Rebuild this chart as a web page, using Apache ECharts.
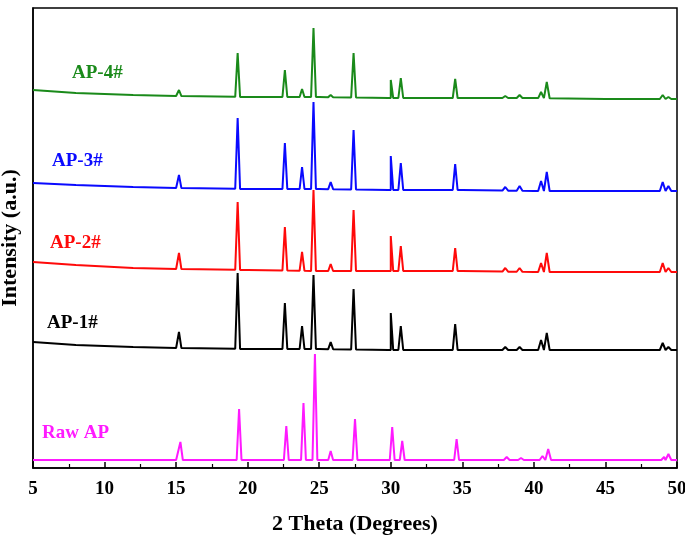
<!DOCTYPE html>
<html>
<head>
<meta charset="utf-8">
<script src="https://cdn.jsdelivr.net/npm/echarts@6/dist/echarts.min.js"></script>
<style>html,body{margin:0;padding:0;background:#fff}#chart{width:685px;height:537px}</style>
</head>
<body>
<div id="chart"></div>
<script>
// peak positions (2 theta) and peak tops / baselines (arbitrary units, offset stacked)
var peakX = [15.2, 19.3, 22.6, 23.8, 24.6, 25.8, 27.4, 30.0, 30.7, 34.5, 38.0, 39.0, 40.5, 40.9, 49.0, 49.4]
var rawX = [15.3, 19.4, 22.7, 23.9, 24.7, 25.8, 27.5, 30.1, 30.8, 34.6, 38.1, 39.1, 40.6, 41.0, 49.1, 49.4]
var baseX = [5, 8, 12, 15, 20, 25, 30, 35, 40, 45, 50]

var ap4Base = [378, 375, 373, 372, 371, 371, 370, 370, 370, 369, 369]
var ap4Peaks = [378, 415, 398, 379, 440, 373, 415, 388, 390, 389, 372, 373, 376, 386, 373, 371]
var ap3Base = [285, 283, 281, 280, 279, 279, 278, 278, 277, 277, 277]
var ap3Peaks = [293, 350, 325, 301, 366, 286, 338, 312, 305, 304, 281, 282, 287, 296, 286, 282]
var ap2Base = [206, 203, 200, 199, 198, 197, 197, 197, 196, 196, 196]
var ap2Peaks = [215, 266, 241, 216, 278, 204, 258, 232, 222, 220, 200, 200, 205, 215, 205, 200]
var ap1Base = [126, 123, 121, 120, 119, 119, 118, 118, 118, 118, 118]
var ap1Peaks = [136, 195, 165, 142, 193, 126, 179, 155, 142, 144, 121, 121, 128, 135, 125, 121]
var rawBase = [8, 8, 8, 8, 8, 8, 8, 8, 8, 8, 8]
var rawPeaks = [26, 59, 42, 65, 114, 17, 49, 41, 27, 29, 11, 10, 12, 19, 11, 14]

var names = ['AP-4#', 'AP-3#', 'AP-2#', 'AP-1#', 'Raw AP']
var colors = ['#1a8a1a', '#0a0aff', '#ff0a0a', '#000000', '#ff1aff']

function baseAt (base, x) {
  for (var i = 0; i < baseX.length - 1; i++) {
    if (x <= baseX[i + 1]) {
      var t = (x - baseX[i]) / (baseX[i + 1] - baseX[i])
      return base[i] + t * (base[i + 1] - base[i])
    }
  }
  return base[base.length - 1]
}

function build (xs, peaks, base) {
  var pts = []
  for (var i = 0; i < baseX.length; i++) pts.push([baseX[i], base[i]])
  for (var j = 0; j < xs.length; j++) {
    var w = xs[j] > 37 ? 0.2 : 0.17
    pts.push([xs[j] - w, baseAt(base, xs[j] - w)])
    pts.push([xs[j], peaks[j]])
    pts.push([xs[j] + w, baseAt(base, xs[j] + w)])
  }
  pts.sort(function (a, b) { return a[0] - b[0] })
  return pts
}

var datas = [
  build(peakX, ap4Peaks, ap4Base),
  build(peakX, ap3Peaks, ap3Base),
  build(peakX, ap2Peaks, ap2Base),
  build(peakX, ap1Peaks, ap1Base),
  build(rawX, rawPeaks, rawBase)
]

var labelPos = [[72, 75], [52, 163], [50, 245], [47, 325], [42, 435]]
var font = 'Liberation Serif'

var series = []
var graphics = []
for (var s = 0; s < names.length; s++) {
  series.push({
    name: names[s],
    type: 'line',
    data: datas[s],
    symbol: 'none',
    lineStyle: { color: colors[s], width: 2 }
  })
  graphics.push({
    type: 'text',
    left: labelPos[s][0],
    top: labelPos[s][1] - 11,
    style: { text: names[s], fill: colors[s], font: 'bold 19px ' + font }
  })
}

var myChart = echarts.init(document.getElementById('chart'))
myChart.setOption({
  animation: false,
  grid: { left: 33, right: 8, top: 8, bottom: 69, show: true, borderColor: '#000', borderWidth: 1.5, outerBoundsMode: 'none', containLabel: false },
  xAxis: {
    type: 'value',
    min: 5,
    max: 50,
    interval: 5,
    name: '2 Theta (Degrees)',
    nameLocation: 'middle',
    nameGap: 45,
    nameTextStyle: { color: '#000', fontFamily: font, fontWeight: 'bold', fontSize: 22 },
    axisLine: { lineStyle: { color: '#000', width: 1.5 } },
    axisTick: { inside: true, length: 6, lineStyle: { color: '#000', width: 1.5 } },
    minorTick: { show: true, splitNumber: 2, length: 4, lineStyle: { color: '#000', width: 1.2 } },
    axisLabel: { color: '#000', fontFamily: font, fontWeight: 'bold', fontSize: 19, margin: 12 },
    splitLine: { show: false }
  },
  yAxis: {
    type: 'value',
    min: 0,
    max: 460,
    name: 'Intensity (a.u.)',
    nameLocation: 'middle',
    nameGap: 12,
    nameTextStyle: { color: '#000', fontFamily: font, fontWeight: 'bold', fontSize: 22 },
    axisLine: { show: true, lineStyle: { color: '#000', width: 1.5 } },
    axisTick: { show: false },
    axisLabel: { show: false },
    splitLine: { show: false }
  },
  series: series,
  graphic: graphics
})
</script>
</body>
</html>
